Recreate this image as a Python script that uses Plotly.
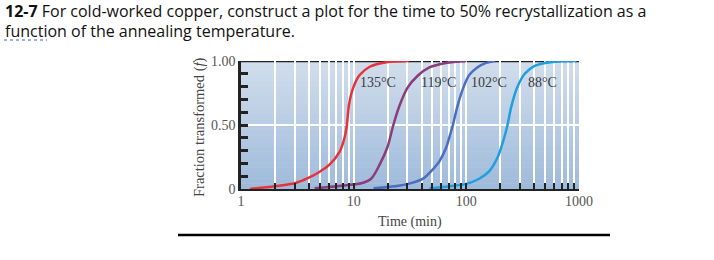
import plotly.graph_objects as go
import math

# ---- data (time in min, fraction transformed) ----
red_t = [1.2, 2.0, 3.0, 4.0, 5.0, 6.1, 7.5, 8.3, 8.7, 9.1, 9.9, 11.3, 13.9, 19.5, 31]
red_f = [0.0, 0.022, 0.045, 0.088, 0.135, 0.19, 0.29, 0.40, 0.50, 0.66, 0.79, 0.89, 0.955, 0.99, 1.0]

purple_t = [4.5, 8.6, 11.7, 14.3, 17, 20, 22.5, 25.5, 30, 37, 47, 66, 100]
purple_f = [0.005, 0.03, 0.045, 0.08, 0.19, 0.33, 0.50, 0.65, 0.79, 0.885, 0.95, 0.985, 1.0]

blue_t = [15, 25, 33.5, 42, 50, 58, 66, 71, 76, 83, 93, 106, 125, 150, 180]
blue_f = [0.005, 0.025, 0.05, 0.085, 0.15, 0.22, 0.32, 0.41, 0.50, 0.64, 0.78, 0.89, 0.95, 0.985, 1.0]

cyan_t = [47, 70, 100, 130, 160, 190, 215, 232, 250, 285, 330, 400, 500, 650, 950]
cyan_f = [0.005, 0.02, 0.04, 0.08, 0.14, 0.25, 0.39, 0.50, 0.64, 0.80, 0.90, 0.96, 0.985, 0.997, 1.0]

series_names = ["135°C", "119°C", "102°C", "88°C"]
series_colors = ["#e8323a", "#8a3d78", "#4b6ec0", "#1f9fde"]
label_t = [16.6, 56.5, 160, 471]
label_f = [0.83, 0.83, 0.83, 0.83]

x_tickvals = [1, 2, 3, 4, 5, 6, 7, 8, 9,
              10, 20, 30, 40, 50, 60, 70, 80, 90,
              100, 200, 300, 400, 500, 600, 700, 800, 900, 1000]
x_ticktext = ["1"] + [""] * 8 + ["10"] + [""] * 8 + ["100"] + [""] * 8 + ["1000"]
y_tickvals = [0, 0.1, 0.2, 0.3, 0.4, 0.5, 0.6, 0.7, 0.8, 0.9, 1.0]
y_ticktext = ["0", "", "", "", "", "0.50", "", "", "", "", "1.00"]

fig = go.Figure()
for t, f, c, n in zip([red_t, purple_t, blue_t, cyan_t],
                      [red_f, purple_f, blue_f, cyan_f],
                      series_colors, series_names):
    fig.add_trace(go.Scatter(x=t, y=f, mode="lines", name=n,
                             line=dict(color=c, width=2.5, shape="spline", smoothing=0.8),
                             hoverinfo="skip", showlegend=False))

# gradient background strips
shapes = []
N = 24
top = (210, 222, 236)
bot = (158, 186, 219)
for i in range(N):
    u = (i + 0.5) / N
    col = tuple(round(bot[k] + (top[k] - bot[k]) * u) for k in range(3))
    shapes.append(dict(type="rect", xref="paper", yref="y", x0=0, x1=1,
                       y0=i / N, y1=(i + 1) / N, fillcolor="rgb(%d,%d,%d)" % col,
                       line=dict(width=0), layer="below"))
shapes.append(dict(type="line", xref="paper", yref="y", x0=0, x1=1, y0=0.5, y1=0.5,
                   line=dict(color="white", width=2), layer="below"))
shapes.append(dict(type="line", xref="paper", yref="y", x0=0, x1=1, y0=1, y1=1,
                   line=dict(color="#222", width=2.5), layer="below"))

L, R, T, B = 241, 135, 61, 71
W, H = 714, 260
pw, ph = W - L - R, H - T - B


def px(xp):
    return (xp - L) / pw


def py(yp):
    return (H - B - yp) / ph


shapes.append(dict(type="line", xref="paper", yref="paper", x0=px(178), x1=px(610),
                   y0=py(235), y1=py(235), line=dict(color="black", width=2.5)))
shapes.append(dict(type="line", xref="paper", yref="paper", x0=px(4), x1=px(47),
                   y0=py(40), y1=py(40), line=dict(color="#3b5fd6", width=1, dash="dot")))

serif = "Liberation Serif, Times New Roman, serif"
sans = "Open Sans, Liberation Sans, Arial, sans-serif"
ann = []
for n, t, f in zip(series_names, label_t, label_f):
    ann.append(dict(x=math.log10(t), y=f, xref="x", yref="y", text=n, showarrow=False,
                    xanchor="center", yanchor="middle",
                    font=dict(family=serif, size=14, color="#3a3a3a")))
ann.append(dict(x=px(3), y=py(11), xref="paper", yref="paper", xanchor="left", yanchor="middle",
                text="<b>12-7</b> For cold-worked copper, construct a plot for the time to 50% recrystallization as a",
                showarrow=False, font=dict(family=sans, size=16, color="#111")))
ann.append(dict(x=px(3), y=py(31), xref="paper", yref="paper", xanchor="left", yanchor="middle",
                text="function of the annealing temperature.",
                showarrow=False, font=dict(family=sans, size=16, color="#111")))
ann.append(dict(x=px(199), y=py(127), xref="paper", yref="paper", textangle=-90,
                xanchor="center", yanchor="middle",
                text="Fraction transformed (<i>f</i>)", showarrow=False,
                font=dict(family=serif, size=14.5, color="#444")))
ann.append(dict(x=px(410), y=py(222), xref="paper", yref="paper",
                xanchor="center", yanchor="middle",
                text="Time (min)", showarrow=False,
                font=dict(family=serif, size=14, color="#444")))

fig.update_layout(
    width=W, height=H, margin=dict(l=L, r=R, t=T, b=B),
    paper_bgcolor="white", plot_bgcolor="rgb(190,208,228)",
    shapes=shapes, annotations=ann,
    xaxis=dict(type="log", range=[0, 3], tickvals=x_tickvals, ticktext=x_ticktext,
               ticks="inside", ticklen=6, tickwidth=2, tickcolor="#222",
               showgrid=True, gridcolor="white", gridwidth=2,
               showline=True, linecolor="#222", linewidth=2, zeroline=False,
               ticklabelstandoff=-2,
               tickfont=dict(family=serif, size=14, color="#555")),
    yaxis=dict(range=[0, 1], tickvals=y_tickvals, ticktext=y_ticktext,
               ticks="inside", ticklen=7, tickwidth=2.5, tickcolor="#222",
               showgrid=False, showline=True, linecolor="#222", linewidth=2.5, zeroline=False,
               ticklabelstandoff=0,
               tickfont=dict(family=serif, size=14, color="#555")),
)

fig.write_html("out.html")
